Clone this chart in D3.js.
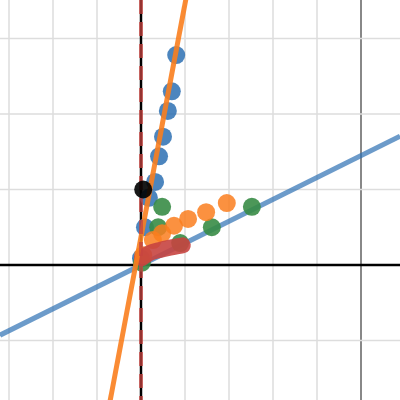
<!DOCTYPE html>
<html><head><meta charset="utf-8">
<script src="https://cdn.jsdelivr.net/npm/d3@7"></script>
<style>body{margin:0;background:#fff}svg{display:block}</style>
</head><body><svg id="chart" width="400" height="400"></svg>
<script>
// data (graph units)
const bluePts = [[0.80,2.78],[0.70,2.30],[0.61,2.04],[0.50,1.70],[0.41,1.44],[0.32,1.10],[0.18,0.89],[0.09,0.50],[0,0.09]];
const greenPts = [[0.02,0.03],[0.39,0.50],[0.48,0.77],[0.89,0.29],[1.61,0.50],[2.52,0.77]];
const orangePts = [[0.05,0.13],[0.27,0.33],[0.48,0.42],[0.75,0.52],[1.07,0.61],[1.48,0.70],[1.95,0.82]];
const redCurve = [[0.02,0.09],[0.2,0.16],[0.43,0.2],[0.66,0.23],[0.84,0.25],[0.95,0.26]];
const blackPt = [[0.05,1.0]];
const blueLine = { slope: 0.29, intercept: 0 };
const orangeLine = { slope: 3.09, intercept: 0.37 };
const xGrid = [-3,-2,-1,1,2,3,4,5];
const yGrid = [-1,1,2,3];

const svg = d3.select("#chart");
const x = d3.scaleLinear().domain([-141/44, 259/44]).range([0,400]);
const y = d3.scaleLinear().domain([-135/75.5, 265/75.5]).range([400,0]);

// grid
svg.selectAll(".gx").data(xGrid).enter().append("line")
  .attr("x1", d => x(d)).attr("x2", d => x(d)).attr("y1", 0).attr("y2", 400)
  .attr("stroke", d => d === 5 ? "#888" : "#ddd").attr("stroke-width", d => d === 5 ? 2 : 1.5);
svg.selectAll(".gy").data(yGrid).enter().append("line")
  .attr("y1", d => y(d)).attr("y2", d => y(d)).attr("x1", 0).attr("x2", 400)
  .attr("stroke", "#ddd").attr("stroke-width", 1.5);

// axes
svg.append("line").attr("x1",0).attr("x2",400).attr("y1",y(0)).attr("y2",y(0)).attr("stroke","#000").attr("stroke-width",2.5);
svg.append("line").attr("y1",0).attr("y2",400).attr("x1",x(0)).attr("x2",x(0)).attr("stroke","#000").attr("stroke-width",2.5);

// fitted lines
const [x0, x1] = x.domain();
function drawLine(l, color, op) {
  svg.append("line")
    .attr("x1", x(x0)).attr("y1", y(l.slope * x0 + l.intercept))
    .attr("x2", x(x1)).attr("y2", y(l.slope * x1 + l.intercept))
    .attr("stroke", color).attr("stroke-width", 5).attr("stroke-opacity", op);
}
drawLine(blueLine, "#2d70b3", 0.7);

// points
function dots(data, color, r, op) {
  svg.append("g").selectAll("circle").data(data).enter().append("circle")
    .attr("cx", d => x(d[0])).attr("cy", d => y(d[1])).attr("r", r)
    .attr("fill", color).attr("fill-opacity", op);
}
dots(bluePts, "#2d70b3", 9, 0.85);
dots(greenPts, "#388c46", 9, 0.9);
dots(orangePts, "#fa7e1e", 9, 0.85);

svg.append("path").datum(redCurve)
  .attr("d", d3.line().x(d => x(d[0])).y(d => y(d[1])).curve(d3.curveMonotoneX))
  .attr("fill","none").attr("stroke","#c74440").attr("stroke-width",16)
  .attr("stroke-linecap","round").attr("stroke-opacity",0.9);

drawLine(orangeLine, "#fa7e1e", 0.9);

// red dashed vertical at x = 0
svg.append("line").attr("y1",0).attr("y2",400).attr("x1",x(0)).attr("x2",x(0))
  .attr("stroke","#c74440").attr("stroke-width",4).attr("stroke-opacity",0.75)
  .attr("stroke-dasharray","14,8");

dots(blackPt, "#000", 9, 0.9);
</script></body></html>
